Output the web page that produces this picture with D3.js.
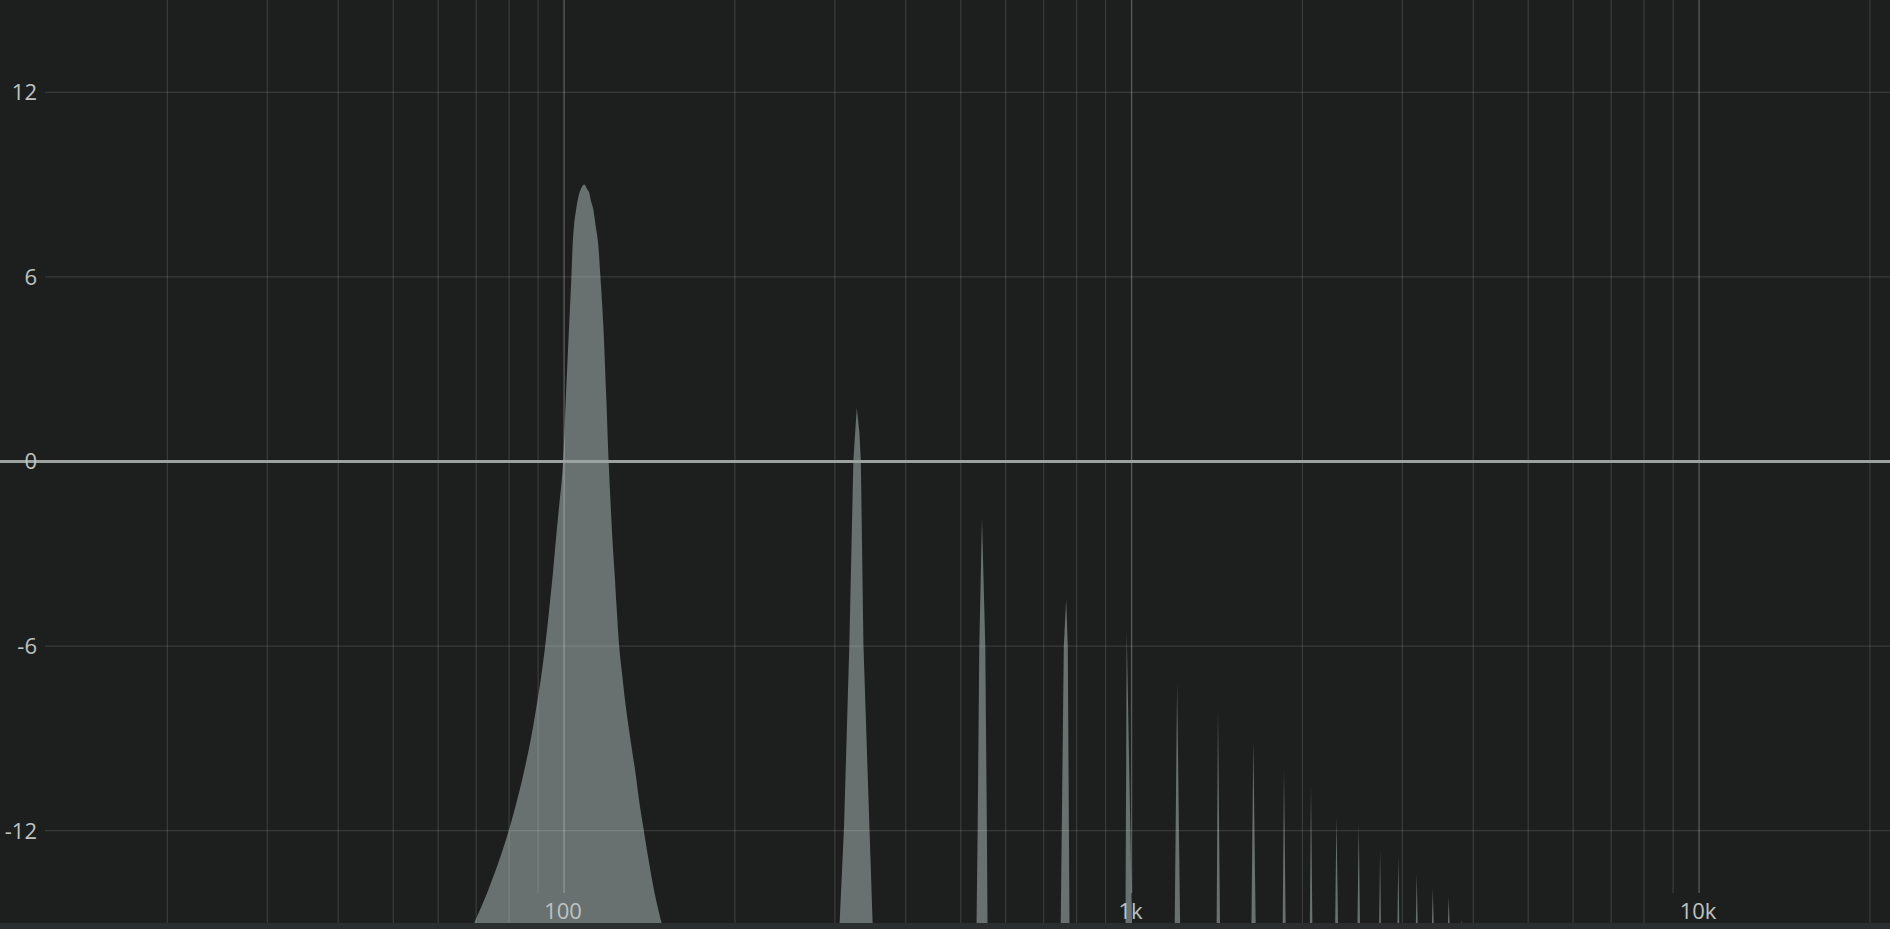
<!DOCTYPE html>
<html>
<head>
<meta charset="utf-8">
<script src="https://cdn.jsdelivr.net/npm/d3@7"></script>
<style>
  html, body { margin: 0; padding: 0; background: #1d1f1f; overflow: hidden; }
  svg { display: block; }
  text { font-family: "Open Sans", sans-serif; font-size: 22px; fill: #bfc3c2; }
</style>
</head>
<body>
<svg width="1890" height="929"></svg>
<script>
// Fundamental peak outline: frequency (Hz) and level (dB)
const fundamentalHz = [
    65.93, 69.39, 73.47, 77.22, 79.77, 82.05, 84.85, 87.30, 89.41, 91.28, 92.58, 94.25, 95.56,
    96.73, 97.99, 99.59, 100.81, 102.05, 103.01, 103.59, 104.1, 105.0, 105.7, 106.4,
    107.0, 108.5, 109.9, 110.8, 111.4, 112.6, 113.7, 114.8, 115.9, 117.3, 118.6, 119.83,
    120.85, 121.70, 122.74, 123.74, 125.09, 126.52, 128.49, 130.96, 133.65, 136.11, 138.34,
    140.60, 144.07, 148.65, 152.96
];
const fundamentalDb = [
    -16, -15.02, -13.94, -12.85, -12.04, -11.23, -10.14, -9.06, -7.97, -6.89, -6.02, -4.72, -3.63,
    -2.55, -1.46, 0, 2.23, 4.39, 6.0, 7.11, 7.65, 8.19, 8.51, 8.73,
    8.84, 9.0, 8.84, 8.73, 8.51, 8.19, 7.65, 7.11, 6.0, 4.39, 2.23, 0,
    -1.46, -2.55, -3.63, -4.72, -6.02, -6.89, -7.97, -9.06, -10.14, -11.23, -12.04,
    -12.85, -13.94, -15.02, -16
];

// Odd harmonics (3rd .. 35th): base, flank and tip points
const harmonicsHz = [
    305.5, 311.4, 318.2, 323.4, 325.7, 328.0, 331.5, 333.4, 336.9, 345.2, 350.0,
    533, 535.5, 539.1, 545, 552.4, 556, 557.5,
    750, 759.6, 766.9, 772.0, 777.5,
    975.5, 980.5, 1002.5,
    1191, 1203, 1218,
    1412, 1420, 1432,
    1626, 1639, 1655,
    1846, 1856, 1869,
    2061, 2071, 2083,
    2284, 2296, 2312,
    2500, 2514, 2527,
    2730, 2741, 2751,
    2940, 2952, 2964,
    3168, 3181, 3194,
    3381, 3395, 3409,
    3607, 3622, 3637,
    3805, 3818, 3831
];
const harmonicsDb = [
    -15.2, -11.88, -5.94, 0, 0.92, 1.74, 0.92, 0, -5.94, -11.88, -15.2,
    -15.2, -12.0, -6.02, -1.84, -6.02, -12.0, -15.2,
    -15.2, -6.02, -4.48, -6.02, -15.2,
    -15.2, -5.53, -15.2,
    -15.2, -7.21, -15.2,
    -15.2, -8.02, -15.2,
    -15.2, -9.06, -15.2,
    -15.2, -9.98, -15.2,
    -15.2, -10.52, -15.2,
    -15.2, -11.53, -15.2,
    -15.2, -11.77, -15.2,
    -15.2, -12.61, -15.2,
    -15.2, -12.83, -15.2,
    -15.2, -13.39, -15.2,
    -15.2, -13.88, -15.2,
    -15.2, -14.15, -15.2,
    -15.2, -14.91, -15.2
];

const dbTicks = [12, 6, 0, -6, -12];
const dbTickLabels = ["12", "6", "0", "-6", "-12"];
const hzTicks = [100, 1000, 10000];
const hzTickLabels = ["100", "1k", "10k"];

const svg = d3.select("svg"),
    width = +svg.attr("width"),
    fullHeight = +svg.attr("height"),
    height = 923,
    gridLeft = 45;

const x = d3.scaleLog()
    .domain([10.14, 21700])
    .range([0, width]);

const y = d3.scaleLinear()
    .domain([-15, 15])
    .range([height, 0]);

const toPoints = (hz, db) => hz.map((f, i) => ({ hz: f, db: db[i] }));

svg.append("rect")
    .attr("width", width)
    .attr("height", fullHeight)
    .attr("fill", "#1d1f1f");

// strip under the plot
svg.append("rect")
    .attr("y", height)
    .attr("width", width)
    .attr("height", fullHeight - height)
    .attr("fill", "#2b2e2e");

svg.append("clipPath")
    .attr("id", "plot")
    .append("rect")
    .attr("width", width)
    .attr("height", height);

const plot = svg.append("g").attr("clip-path", "url(#plot)");

// Spectrum fill
const area = d3.area()
    .x(d => x(d.hz))
    .y0(y(-18))
    .y1(d => y(d.db));

plot.append("path")
    .datum(toPoints(fundamentalHz, fundamentalDb))
    .attr("d", area.curve(d3.curveMonotoneX))
    .attr("fill", "#68716f");

plot.append("path")
    .datum(toPoints(harmonicsHz, harmonicsDb))
    .attr("d", area.curve(d3.curveLinear))
    .attr("fill", "#68716f");

// Labels first, so the vertical grid can stop above them
const labels = svg.append("g");

const xLabels = labels.selectAll(".xlabel")
    .data(hzTicks)
    .enter()
    .append("text")
    .attr("class", "xlabel")
    .attr("x", d => x(d) - 1)
    .attr("y", 919)
    .attr("text-anchor", "middle")
    .text((d, i) => hzTickLabels[i]);

const boxes = xLabels.nodes().map(n => n.getBBox());

function gridBottom(px) {
    const hit = boxes.find(b => px > b.x - 9 && px < b.x + b.width + 9);
    return hit ? hit.y - 2 : height;
}

const grid = plot.append("g");

// horizontal grid
grid.selectAll(".hgrid")
    .data(dbTicks.filter(d => d !== 0))
    .enter()
    .append("line")
    .attr("x1", gridLeft)
    .attr("x2", width)
    .attr("y1", d => y(d))
    .attr("y2", d => y(d))
    .attr("stroke", "rgba(255,255,255,0.12)")
    .attr("stroke-width", 1.3);

// vertical grid, decades brighter
grid.selectAll(".vgrid")
    .data(x.ticks())
    .enter()
    .append("line")
    .attr("x1", d => x(d))
    .attr("x2", d => x(d))
    .attr("y1", 0)
    .attr("y2", d => gridBottom(x(d)))
    .attr("stroke", d => hzTicks.includes(d) ? "rgba(255,255,255,0.27)" : "rgba(255,255,255,0.12)")
    .attr("stroke-width", 1.3);

// 0 dB line
grid.append("line")
    .attr("x1", 0)
    .attr("x2", width)
    .attr("y1", y(0))
    .attr("y2", y(0))
    .attr("stroke", "#9ca2a0")
    .attr("stroke-width", 3);

svg.node().appendChild(labels.node());

labels.selectAll(".ylabel")
    .data(dbTicks)
    .enter()
    .append("text")
    .attr("class", "ylabel")
    .attr("x", 37)
    .attr("y", d => y(d))
    .attr("dy", "0.36em")
    .attr("text-anchor", "end")
    .text((d, i) => dbTickLabels[i]);
</script>
</body>
</html>
